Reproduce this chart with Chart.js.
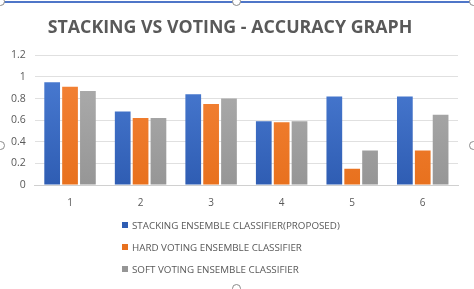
<!DOCTYPE html>
<html>
<head>
<meta charset="utf-8">
<script src="https://cdn.jsdelivr.net/npm/chart.js@4.4.1/dist/chart.umd.min.js"></script>
<style>
  html,body{margin:0;padding:0;background:#fff;}
  #wrap{position:relative;width:474px;height:289px;overflow:hidden;}
  #topline{position:absolute;left:0;top:1px;width:474px;height:2px;background:#4f76c8;}
  .h{position:absolute;width:9px;height:9px;border-radius:50%;background:#fff;border:1px solid #8a8a8a;box-sizing:border-box;}
  #legend{position:absolute;left:122px;top:219px;font-family:"Open Sans",sans-serif;font-size:9.8px;color:#595959;}
  #legend div{height:22px;line-height:14px;white-space:nowrap;}
  #legend span.b{display:inline-block;width:6px;height:6px;margin-right:4px;vertical-align:1px;}
</style>
</head>
<body>
<div id="wrap">
  <canvas id="c" width="474" height="289"></canvas>
  <div id="topline"></div>
  <div class="h" style="left:-4px;top:-3px"></div>
  <div class="h" style="left:232px;top:-3px"></div>
  <div class="h" style="left:469px;top:-3px"></div>
  <div class="h" style="left:-4px;top:141px"></div>
  <div class="h" style="left:469px;top:141px"></div>
  <div class="h" style="left:232px;top:284px"></div>
  <div id="legend"></div>
</div>
<script>
const titleText = "STACKING VS VOTING - ACCURACY GRAPH";
const categories = ["1", "2", "3", "4", "5", "6"];
const seriesNames = [
  "STACKING ENSEMBLE CLASSIFIER(PROPOSED)",
  "HARD VOTING ENSEMBLE CLASSIFIER",
  "SOFT VOTING ENSEMBLE CLASSIFIER"
];
const stackingValues = [0.95, 0.68, 0.84, 0.59, 0.82, 0.82];
const hardVotingValues = [0.91, 0.62, 0.75, 0.58, 0.15, 0.32];
const softVotingValues = [0.87, 0.62, 0.80, 0.59, 0.32, 0.65];
const yTicks = [0, 0.2, 0.4, 0.6, 0.8, 1, 1.2];

const colorsTop = ["#4d7fd6", "#f5853a", "#b0b0b0"];
const colorsBottom = ["#2f5db3", "#e8711e", "#969696"];

function grad(i){
  return function(ctx){
    const ca = ctx.chart.chartArea;
    if(!ca) return colorsTop[i];
    const g = ctx.chart.ctx.createLinearGradient(0, ca.top, 0, ca.bottom);
    g.addColorStop(0, colorsTop[i]);
    g.addColorStop(1, colorsBottom[i]);
    return g;
  };
}

const seriesValues = [stackingValues, hardVotingValues, softVotingValues];
const datasets = seriesNames.map((n, i) => ({
  label: n,
  data: seriesValues[i],
  backgroundColor: grad(i),
  borderWidth: 0,
  categoryPercentage: 0.76,
  barPercentage: 0.88
}));

const chart = new Chart(document.getElementById("c"), {
  type: "bar",
  data: { labels: categories, datasets: datasets },
  options: {
    responsive: false,
    animation: false,
    layout: { padding: { left: 2, right: 16, top: 17, bottom: 76 } },
    plugins: {
      legend: { display: false },
      tooltip: { enabled: false },
      title: {
        display: true,
        text: titleText,
        color: "#595959",
        font: { family: "Open Sans", size: 17.8, weight: "bold" },
        padding: { top: 0, bottom: 17 }
      }
    },
    scales: {
      x: {
        grid: { display: false },
        border: { color: "#d0d0d0" },
        ticks: { color: "#595959", font: { family: "Open Sans", size: 10 }, padding: 4 }
      },
      y: {
        min: 0, max: 1.2,
        afterBuildTicks: (ax) => { ax.ticks = yTicks.map(v => ({ value: v })); },
        grid: { color: "#e0e0e0", drawTicks: false },
        border: { display: false },
        ticks: { color: "#595959", font: { family: "Open Sans", size: 10.5 }, padding: 9,
                 callback: (v) => String(v) }
      }
    }
  }
});

const leg = document.getElementById("legend");
chart.data.datasets.forEach((d, i) => {
  const row = document.createElement("div");
  const b = document.createElement("span");
  b.className = "b";
  b.style.background = colorsBottom[i];
  row.appendChild(b);
  row.appendChild(document.createTextNode(d.label));
  leg.appendChild(row);
});
</script>
</body>
</html>
